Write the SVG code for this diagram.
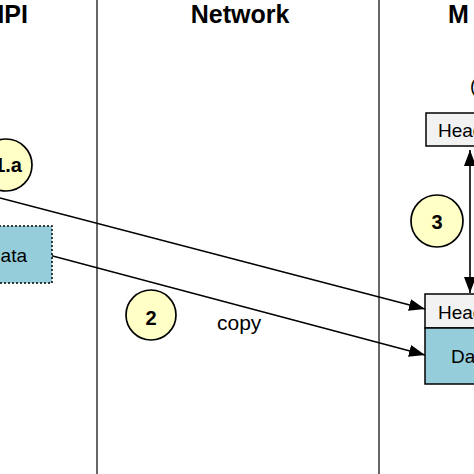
<svg xmlns="http://www.w3.org/2000/svg" width="474" height="474" viewBox="0 0 474 474">
<style>
.lane{stroke:#404040;stroke-width:1.6;fill:none}
.title{font-family:"Liberation Sans",Arial,sans-serif;font-weight:bold;font-size:25px;fill:#000}
.lbl{font-family:"Liberation Sans",Arial,sans-serif;font-size:19px;fill:#000}
.num{font-family:"Liberation Sans",Arial,sans-serif;font-weight:bold;font-size:20px;fill:#000;text-anchor:middle}
.step{fill:#FFFFC6;stroke:#000;stroke-width:1.7}
.hdr{fill:#F2F2F2;stroke:#000;stroke-width:1.5}
.dat{fill:#95CDDB;stroke:#000;stroke-width:1.5}
.conn{stroke:#000;stroke-width:1.6;fill:none}
</style>
<defs>
<marker id="ah" viewBox="0 0 16 12" refX="16" refY="6" markerWidth="16" markerHeight="12" markerUnits="userSpaceOnUse" orient="auto-start-reverse">
<path d="M0,0 L16,6 L0,12 z" fill="#000"/>
</marker>
</defs>
<rect width="474" height="474" fill="#fff"/>
<g id="lanes">
<line class="lane" x1="97" y1="0" x2="97" y2="474"/>
<line class="lane" x1="379" y1="0" x2="379" y2="474"/>
<text class="title" x="28" y="23" text-anchor="end">MPI</text>
<text class="title" x="240" y="23" text-anchor="middle">Network</text>
<text class="title" x="448" y="23">M</text>
<text class="lbl" x="470" y="92">(</text>
</g>
<g id="connectors">
<line class="conn" x1="0" y1="198" x2="425" y2="309" marker-end="url(#ah)"/>
<line class="conn" x1="0" y1="242" x2="425" y2="355" marker-end="url(#ah)"/>
<line class="conn" x1="470" y1="150" x2="470" y2="293" marker-start="url(#ah)" marker-end="url(#ah)"/>
</g>
<g id="step1a">
<circle class="step" cx="6" cy="165" r="26"/>
<text class="num" x="22" y="172" style="text-anchor:end">1.a</text>
</g>
<g id="srcData">
<rect x="-5" y="226" width="57" height="57" fill="#95CDDB" stroke="#000" stroke-width="1.5" stroke-dasharray="2,2"/>
<text class="lbl" x="27" y="262" text-anchor="end">Data</text>
</g>
<g id="step2">
<circle class="step" cx="151" cy="315" r="25"/>
<text class="num" x="151" y="325">2</text>
</g>
<text class="lbl" x="217" y="330" style="font-size:21px">copy</text>
<g id="step3">
<circle class="step" cx="437" cy="221" r="26"/>
<text class="num" x="437" y="229">3</text>
</g>
<g id="topHeader">
<rect class="hdr" x="426" y="113" width="60" height="33"/>
<text class="lbl" x="438" y="137">Header</text>
</g>
<g id="dstHeader">
<rect class="hdr" x="425" y="294" width="60" height="34"/>
<text class="lbl" x="438" y="319">Header</text>
</g>
<g id="dstData">
<rect class="dat" x="425" y="328" width="60" height="56"/>
<text class="lbl" x="451" y="363">Data</text>
</g>
</svg>
